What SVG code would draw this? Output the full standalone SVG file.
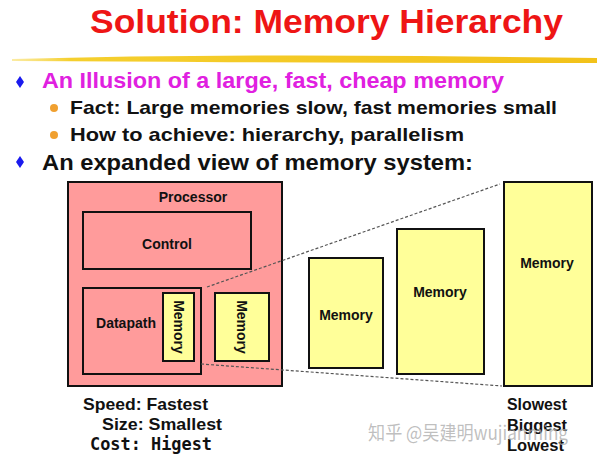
<svg xmlns="http://www.w3.org/2000/svg" width="600" height="458" viewBox="0 0 600 458">
<defs>
<linearGradient id="brush" x1="0" y1="0" x2="1" y2="0">
<stop offset="0" stop-color="#f7d84a" stop-opacity="0.5"/>
<stop offset="0.1" stop-color="#f5cf2e"/>
<stop offset="1" stop-color="#f2c21a"/>
</linearGradient>
</defs>
<style>
.t{font-family:"Liberation Sans",Arial,sans-serif;font-weight:bold}
.box{stroke:#111;stroke-width:2}
.pink{fill:#ff9b9b}
.yel{fill:#ffff99}
.lbl{font-family:"Liberation Sans",Arial,sans-serif;font-weight:bold;font-size:14px;fill:#111;text-anchor:middle}
.dash{stroke:#555;stroke-width:1.2;stroke-dasharray:3 2;fill:none}
.bt{font-family:"Liberation Sans",Arial,sans-serif;font-weight:bold;font-size:17px;fill:#111}
</style>
<rect width="600" height="458" fill="#ffffff"/>
<g id="title">
<text class="t" x="90" y="33" font-size="34" fill="#ee1515" textLength="473" lengthAdjust="spacingAndGlyphs">Solution: Memory Hierarchy</text>
<path d="M12 59 Q200 54 420 56 Q520 57 597 58 L597 63 Q400 63 200 62 Q80 61 12 61 Z" fill="url(#brush)"/>
</g>
<g id="bullets">
<polygon points="20,76 24,82 20,88 16,82" fill="#1a1aee"/>
<text class="t" x="42" y="88" font-size="22" fill="#e020e0" textLength="462" lengthAdjust="spacingAndGlyphs">An Illusion of a large, fast, cheap memory</text>
<circle cx="54" cy="108" r="4" fill="#f0a030"/>
<text class="t" x="70" y="114" font-size="19" fill="#111" textLength="487" lengthAdjust="spacingAndGlyphs">Fact: Large memories slow, fast memories small</text>
<circle cx="54" cy="135" r="4" fill="#f0a030"/>
<text class="t" x="70" y="141" font-size="19" fill="#111" textLength="394" lengthAdjust="spacingAndGlyphs">How to achieve: hierarchy, parallelism</text>
<polygon points="20,156 24,162 20,168 16,162" fill="#1a1aee"/>
<text class="t" x="42" y="170" font-size="22" fill="#111" textLength="431" lengthAdjust="spacingAndGlyphs">An expanded view of memory system:</text>
</g>
<g id="processor">
<rect class="box pink" x="68" y="182" width="214" height="204"/>
<text class="lbl" x="193" y="202">Processor</text>
</g>
<g id="control">
<rect class="box pink" x="83" y="212" width="168" height="57"/>
<text class="lbl" x="167" y="249">Control</text>
</g>
<g id="datapath">
<rect class="box pink" x="83" y="288" width="118" height="86"/>
<text class="lbl" x="126" y="328">Datapath</text>
</g>
<g id="mem-reg">
<rect class="box yel" x="163" y="293" width="31" height="68"/>
<text class="lbl" transform="translate(178.5,327) rotate(90)" dy="5">Memory</text>
</g>
<g id="mem-l1">
<rect class="box yel" x="215" y="293" width="54" height="68"/>
<text class="lbl" transform="translate(242,327) rotate(90)" dy="5">Memory</text>
</g>
<g id="connectors">
<line class="dash" x1="207" y1="287" x2="500" y2="184"/>
<line class="dash" x1="201" y1="364" x2="502" y2="386"/>
</g>
<g id="mem-l2">
<rect class="box yel" x="309" y="258" width="74" height="110"/>
<text class="lbl" x="346" y="320">Memory</text>
</g>
<g id="mem-l3">
<rect class="box yel" x="397" y="229" width="87" height="145"/>
<text class="lbl" x="440" y="297">Memory</text>
</g>
<g id="mem-l4">
<rect class="box yel" x="504" y="182" width="88" height="204"/>
<text class="lbl" x="547" y="268">Memory</text>
</g>
<g id="labels">
<text class="bt" x="83" y="410" textLength="125" lengthAdjust="spacingAndGlyphs">Speed:  Fastest</text>
<text class="bt" x="102" y="430" textLength="120" lengthAdjust="spacingAndGlyphs">Size:  Smallest</text>
<text x="90" y="450" font-family="'DejaVu Sans Mono','Liberation Mono',monospace" font-weight="bold" font-size="17" fill="#111" textLength="122" lengthAdjust="spacingAndGlyphs">Cost: Higest</text>
<text class="bt" x="507" y="410" textLength="60" lengthAdjust="spacingAndGlyphs">Slowest</text>
<text class="bt" x="507" y="431" textLength="60" lengthAdjust="spacingAndGlyphs">Biggest</text>
<text class="bt" x="507" y="451" textLength="57" lengthAdjust="spacingAndGlyphs">Lowest</text>
</g>
<g id="watermark">
<text x="368" y="440" font-family="'Noto Sans CJK SC','Noto Sans',sans-serif" font-size="19" fill="#aaaaaa" fill-opacity="0.75" textLength="200" lengthAdjust="spacingAndGlyphs">知乎 @吴建明wujianming</text>
</g>
</svg>
